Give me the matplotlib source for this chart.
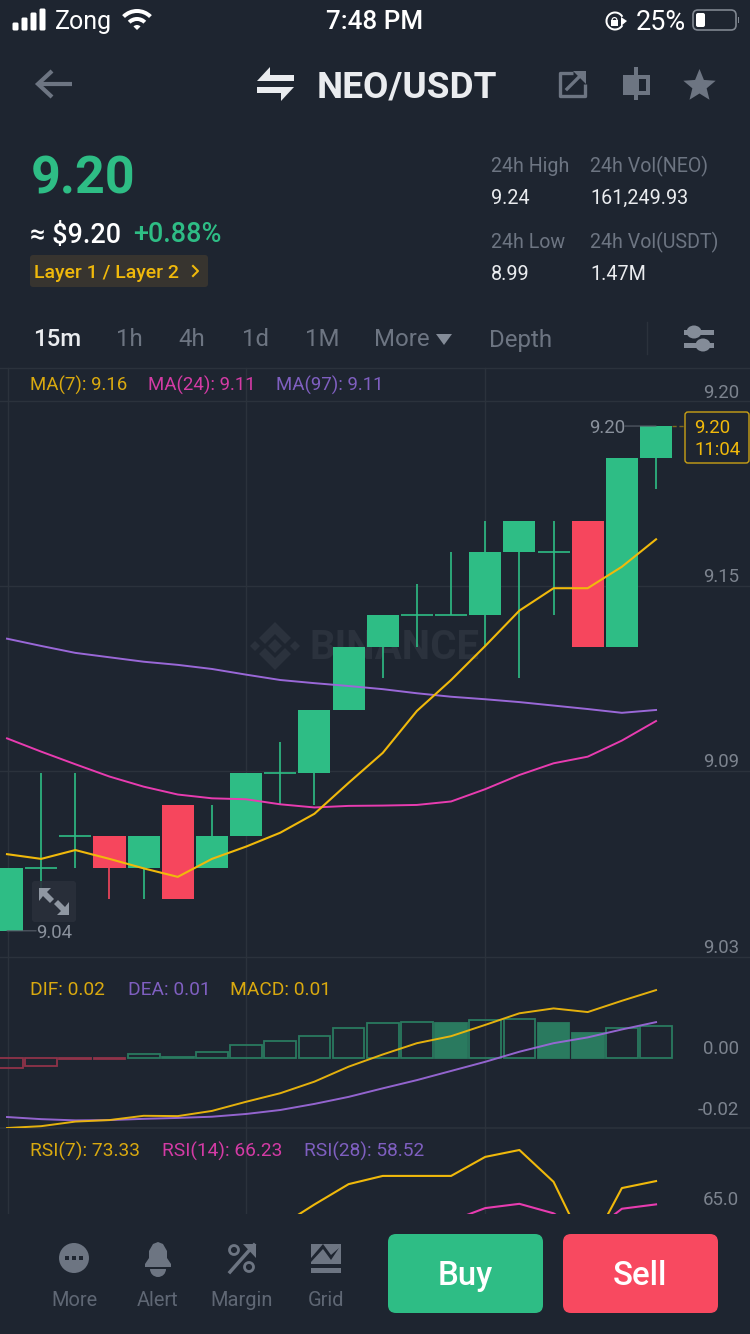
#!/usr/bin/env python3
"""Recreates the NEO/USDT 15m trading screen: candles, MACD and RSI panels plus app chrome."""

import numpy as np
import matplotlib
matplotlib.use('Agg')
import matplotlib.pyplot as plt
from matplotlib.patches import Circle, Ellipse, FancyBboxPatch, Polygon, Rectangle, Wedge

plt.rcParams['font.family'] = ['Roboto', 'DejaVu Sans']

# candles, oldest first
opens = [9.04, 9.06, 9.07, 9.07, 9.06, 9.08, 9.06, 9.07, 9.09, 9.09,
         9.11, 9.13, 9.14, 9.14, 9.14, 9.16, 9.16, 9.17, 9.13, 9.19]
closes = [9.06, 9.06, 9.07, 9.06, 9.07, 9.05, 9.07, 9.09, 9.09, 9.11,
          9.13, 9.14, 9.14, 9.14, 9.16, 9.17, 9.16, 9.13, 9.19, 9.20]
highs = [9.06, 9.09, 9.09, 9.07, 9.07, 9.08, 9.08, 9.09, 9.10, 9.11,
         9.13, 9.14, 9.15, 9.16, 9.17, 9.17, 9.17, 9.17, 9.19, 9.20]
lows = [9.04, 9.05, 9.06, 9.05, 9.05, 9.05, 9.06, 9.07, 9.08, 9.08,
        9.11, 9.12, 9.13, 9.14, 9.13, 9.12, 9.14, 9.13, 9.13, 9.18]

ma7 = [9.0643, 9.0628, 9.0656, 9.0628, 9.0598, 9.0571, 9.0628, 9.0667, 9.0711, 9.0771,
       9.0869, 9.0964, 9.1097, 9.1195, 9.1303, 9.1415, 9.1486, 9.1486, 9.1554, 9.1641]
ma24 = [9.1010, 9.0968, 9.0928, 9.0889, 9.0857, 9.0832, 9.0820, 9.0817, 9.0801, 9.0791,
        9.0796, 9.0797, 9.0799, 9.0810, 9.0849, 9.0894, 9.0931, 9.0952, 9.1003, 9.1065]
ma97 = [9.1326, 9.1303, 9.1281, 9.1267, 9.1253, 9.1243, 9.1230, 9.1212, 9.1195, 9.1185,
        9.1176, 9.1166, 9.1153, 9.1142, 9.1134, 9.1125, 9.1114, 9.1103, 9.1091, 9.1100]

price_grid = [9.2079, 9.1493, 9.0907, 9.0317]
price_labels = ['9.20', '9.15', '9.09', '9.03']

macd_hist = [-0.0035, -0.0027, -0.0004, -0.0004, 0.0011, 0.0002, 0.0019, 0.0040, 0.0053, 0.0071,
             0.0096, 0.0112, 0.0117, 0.0114, 0.0123, 0.0126, 0.0114, 0.0081, 0.0096, 0.0104]
macd_filled = [13, 16, 17]
dif = [-0.0231, -0.0225, -0.0210, -0.0205, -0.0191, -0.0192, -0.0175, -0.0145, -0.0117, -0.0079,
       -0.0030, 0.0010, 0.0047, 0.0070, 0.0107, 0.0145, 0.0161, 0.0149, 0.0186, 0.0221]
dea = [-0.0195, -0.0202, -0.0206, -0.0205, -0.0201, -0.0198, -0.0194, -0.0185, -0.0172, -0.0152,
       -0.0129, -0.0101, -0.0074, -0.0044, -0.0014, 0.0019, 0.0047, 0.0066, 0.0092, 0.0116]

rsi7_idx = [8, 9, 10, 11, 12, 13, 14, 15, 16, 17, 18, 19]
rsi7 = [59.6, 66.2, 72.4, 74.9, 74.9, 74.9, 80.7, 82.8, 73.1, 51.7, 71.2, 73.33]
rsi14_idx = [13, 14, 15, 16, 17, 18, 19]
rsi14 = [61.2, 65.1, 66.4, 63.5, 56.9, 64.9, 66.23]

BG = '#1e2530'
GRID = '#2b323c'
GREEN = '#2ebd85'
RED = '#f6465d'
YELLOW = '#f0b90b'
PINK = '#e83cb0'
PURPLE = '#9a68d8'
GRAY = '#6d7582'
LIGHT = '#eaecef'

W, H = 750, 1334
STEP = 34.16  # px per candle


def px_axes(fig, top, bottom, ylim, zorder=1):
    """Axes spanning the full width between two pixel rows, candle index on x."""
    ax = fig.add_axes([0, 1 - bottom / H, 1, (bottom - top) / H], zorder=zorder)
    ax.set_xlim(-7 / STEP, (W - 7) / STEP)
    ax.set_ylim(*ylim)
    ax.axis('off')
    return ax


def put(ax, x, y, s, size, color, ha='left', weight='normal'):
    # size is the em in pixels; va=center sits about 2px high for this font
    ax.text(x, y + 2, s, fontsize=size * 0.72, color=color, ha=ha, va='center', fontweight=weight)


def axis_label(ax, v, s):
    ax.annotate(s, xy=(1, v), xycoords=('axes fraction', 'data'), xytext=(-8, 6.2), textcoords='offset points',
                ha='right', va='center', color='#7c838e', fontsize=13.4, annotation_clip=False)


def extreme_label(ax, i, v, s, dx, ha):
    # thin leader from the candle to the high/low text
    ax.annotate('', xy=(i, v), xytext=(dx, 0), textcoords='offset points',
                arrowprops=dict(arrowstyle='-', color='#59606b', lw=0.8, shrinkA=0, shrinkB=0))
    ax.annotate(s, xy=(i, v), xytext=(dx, -1.3), textcoords='offset points', ha=ha, va='center',
                color='#8a919c', fontsize=13.4, zorder=6)


fig = plt.figure(figsize=(W / 100, H / 100), dpi=100, facecolor=BG)

# background layer: vertical grid and watermark
back = fig.add_axes([0, 0, 1, 1], zorder=0)
back.set_xlim(0, W)
back.set_ylim(H, 0)
back.axis('off')
for x in [7.5, 246, 485]:
    back.plot([x, x], [368, 1214], color=GRID, lw=1)
back.plot([0, W], [368, 368], color=GRID, lw=1)
wm = '#2b323d'
for cx, cy, r in [(275, 646, 7), (255, 646, 5), (295, 646, 5)]:
    back.add_patch(Polygon([(cx - r, cy), (cx, cy - r), (cx + r, cy), (cx, cy + r)], color=wm, lw=0))
back.add_patch(Polygon([(275, 622), (291, 638), (285, 644), (275, 634), (265, 644), (259, 638)], color=wm, lw=0))
back.add_patch(Polygon([(275, 670), (291, 654), (285, 648), (275, 658), (265, 648), (259, 654)], color=wm, lw=0))
back.text(310, 648, 'BINANCE', fontsize=29, fontweight='bold', color=wm, va='center')

# price panel
ax = px_axes(fig, 368, 957, (9.0317, 9.2184))
for v in price_grid:
    ax.axhline(v, color=GRID, lw=1, zorder=0, clip_on=False)
for i in range(len(opens)):
    up = closes[i] >= opens[i]
    col = GREEN if up else RED
    ax.vlines(i, lows[i], highs[i], color=col, lw=1.2, zorder=2)
    if opens[i] == closes[i]:
        ax.hlines(opens[i], i - 0.47, i + 0.47, color=col, lw=1.2, zorder=2)
    else:
        ax.bar(i, abs(closes[i] - opens[i]), bottom=min(opens[i], closes[i]), width=0.94,
               color=col, lw=0, zorder=3)
xs = np.arange(len(opens))
ax.plot(xs, ma97, color=PURPLE, lw=1.4, zorder=4)
ax.plot(xs, ma24, color=PINK, lw=1.4, zorder=4)
ax.plot(xs, ma7, color=YELLOW, lw=1.5, zorder=5)
extreme_label(ax, 19, 9.20, '9.20', -22.5, 'right')
extreme_label(ax, 0, 9.04, '9.04', 21, 'left')

# MACD panel
macd = px_axes(fig, 957, 1128, (-0.0231, 0.03295))
macd.axhline(-0.0231, color=GRID, lw=1.2, clip_on=False)
for i, h in enumerate(macd_hist):
    col = '#2a7a5f' if h > 0 else '#8f3349'
    filled = i in macd_filled
    macd.bar(i, h, width=0.93, facecolor=col if filled else 'none', edgecolor=col, lw=1.3, zorder=2)
macd.plot(xs, dea, color=PURPLE, lw=1.4, alpha=0.95, zorder=3)
macd.plot(xs, dif, color=YELLOW, lw=1.4, alpha=0.95, zorder=3)

# RSI panel, mostly cut off by the bottom bar
rsi = px_axes(fig, 1128, 1214, (63.3, 89.5))
rsi.plot(rsi7_idx, rsi7, color=YELLOW, lw=1.5)
rsi.plot(rsi14_idx, rsi14, color=PINK, lw=1.5)

# chrome on top, pixel coordinates
ui = fig.add_axes([0, 0, 1, 1], zorder=5)
ui.set_xlim(0, W)
ui.set_ylim(H, 0)
ui.axis('off')
ui.patch.set_alpha(0)

# status bar
for x, top in zip([13, 22, 31, 40], [23, 18, 13, 9]):
    ui.add_patch(FancyBboxPatch((x, top), 5, 30 - top, boxstyle='round,pad=0.5,rounding_size=1.5', color='white', lw=0))
put(ui, 55, 20, 'Zong', 25, 'white')
ui.add_patch(Wedge((137, 30), 5, 225, 315, color='white', lw=0))
ui.add_patch(Wedge((137, 30), 13, 225, 315, width=4, color='white', lw=0))
ui.add_patch(Wedge((137, 30), 21, 225, 315, width=4, color='white', lw=0))
put(ui, 375, 20, '7:48 PM', 26, 'white', ha='center', weight='medium')
ui.add_patch(Wedge((615, 21), 9.5, 30, 330, width=2, color='white', lw=0))
ui.add_patch(Polygon([(621, 17), (627, 21), (621, 26)], color='white', lw=0))
ui.add_patch(Rectangle((611, 20), 7, 6, color='white', lw=0))
ui.add_patch(Wedge((614.5, 20), 3, 180, 360, width=1.2, color='white', lw=0))
put(ui, 686, 20, '25%', 27, 'white', ha='right')
ui.add_patch(FancyBboxPatch((693, 10), 43, 20, boxstyle='round,pad=0,rounding_size=5', fc='none', ec='#7f8690', lw=1.2))
ui.add_patch(FancyBboxPatch((696, 13), 9, 14, boxstyle='round,pad=0,rounding_size=2', color='white', lw=0))
ui.add_patch(Rectangle((737.5, 17), 1.5, 6, color='#7f8690', lw=0))

# nav bar
ui.plot([39, 72], [84, 84], color=GRAY, lw=3, solid_capstyle='butt')
ui.plot([52, 38, 52], [71, 84, 97], color=GRAY, lw=3, solid_joinstyle='miter', solid_capstyle='butt')
ui.add_patch(Polygon([(257, 81), (270, 67), (270, 75), (294, 75), (294, 81)], color=LIGHT, lw=0))
ui.add_patch(Polygon([(294, 87), (281, 101), (281, 93), (257, 93), (257, 87)], color=LIGHT, lw=0))
put(ui, 317, 85, 'NEO/USDT', 37, LIGHT, weight='bold')
ui.plot([573, 560, 560, 585, 585], [73, 73, 96, 96, 84], color=GRAY, lw=2.4, solid_capstyle='butt')
ui.plot([567, 582], [89, 74], color=GRAY, lw=2.4)
ui.add_patch(Polygon([(573, 71), (586, 71), (586, 84)], color=GRAY, lw=0))
ui.add_patch(Rectangle((623, 75), 27, 20, color=GRAY, lw=0))
ui.add_patch(Rectangle((634, 67), 4, 33, color=GRAY, lw=0))
ui.add_patch(Rectangle((639, 79), 7, 12, color=BG, lw=0))
ang = np.deg2rad(np.arange(-90, 270, 36))
rad = np.where(np.arange(10) % 2 == 0, 17, 7.5)
ui.add_patch(Polygon(np.c_[699.5 + rad * np.cos(ang), 86 + rad * np.sin(ang)], color=GRAY, lw=0))

# price header
put(ui, 31, 177, '9.20', 52, GREEN, weight='bold')
put(ui, 30, 233, '\u2248 $9.20', 27, 'white', weight='medium')
put(ui, 133, 233, '+0.88%', 27, GREEN, weight='medium')
ui.add_patch(FancyBboxPatch((30, 255), 178, 32, boxstyle='round,pad=0,rounding_size=3', color='#37342f', lw=0))
put(ui, 34, 271, 'Layer 1 / Layer 2', 19.5, YELLOW, weight='medium')
ui.plot([193, 198, 193], [266, 271, 276], color=YELLOW, lw=1.5)

stat_x = [491, 590]
stat_rows = [(164, 196, ['24h High', '24h Vol(NEO)'], ['9.24', '161,249.93']),
             (240, 272, ['24h Low', '24h Vol(USDT)'], ['8.99', '1.47M'])]
for y1, y2, heads, vals in stat_rows:
    for x, head, val in zip(stat_x, heads, vals):
        put(ui, x, y1, head, 19.6, GRAY)
        put(ui, x, y2, val, 19.8, LIGHT)

# interval tabs
tab_x = [33, 116, 178, 242, 305, 374, 489]
tab_names = ['15m', '1h', '4h', '1d', '1M', 'More', 'Depth']
for x, name in zip(tab_x, tab_names):
    if name == '15m':
        put(ui, x, 338, name, 24, LIGHT, weight='medium')
    else:
        put(ui, x, 338, name, 24, GRAY)
ui.add_patch(Polygon([(436, 334), (452, 334), (444, 345)], color='#848c98', lw=0))
ui.plot([647, 647], [322, 354], color=GRID, lw=1)
for y, kx in [(332, 694), (345, 703)]:
    ui.add_patch(Rectangle((684, y - 2.5), 30, 5, color='#848c98', lw=0))
    ui.add_patch(Ellipse((kx, y), 15, 13, color='#848c98', lw=0))

# chart legends
for x, y, s, col, size in [(30, 383, 'MA(7): 9.16', '#d9a90f', 18.7), (148, 383, 'MA(24): 9.11', '#d43ba5', 18.7),
                           (276, 383, 'MA(97): 9.11', '#7f5fc0', 18.7),
                           (30, 988, 'DIF: 0.02', '#d9a90f', 19.2), (128, 988, 'DEA: 0.01', '#7f5fc0', 19.2),
                           (230, 988, 'MACD: 0.01', '#d9a90f', 19.2),
                           (30, 1149, 'RSI(7): 73.33', '#d9a90f', 19.2), (162, 1149, 'RSI(14): 66.23', '#d43ba5', 19.2),
                           (304, 1149, 'RSI(28): 58.52', '#7f5fc0', 19.2)]:
    put(ui, x, y, s, size, col)

# right axis labels
for v, s in zip(price_grid, price_labels):
    axis_label(ax, v, s)
axis_label(macd, 0, '0.00')
axis_label(macd, -0.02, '-0.02')
axis_label(rsi, 65, '65.0')

# current price tag
ui.plot([672, 685], [426, 426], color='#7d6a1e', lw=1, ls=(0, (3, 2)))
ui.add_patch(FancyBboxPatch((685, 412), 64, 51, boxstyle='round,pad=0,rounding_size=3', fc=BG, ec='#c9a116', lw=1))
put(ui, 694, 426, '9.20', 18.7, YELLOW)
put(ui, 695, 448, '11:04', 18.7, YELLOW)

# expand button
ui.add_patch(FancyBboxPatch((32, 881), 44, 41, boxstyle='round,pad=0,rounding_size=3', fc='#2a303b', ec='none', alpha=0.9))
ui.add_patch(Polygon([(39, 888), (51, 888), (47, 892), (54, 899), (50, 903), (43, 896), (39, 901)], color='#8f97a2', lw=0))
ui.add_patch(Polygon([(69, 915), (57, 915), (61, 911), (54, 904), (58, 900), (65, 907), (69, 902)], color='#8f97a2', lw=0))

# bottom bar
ui.add_patch(Rectangle((0, 1214), W, H - 1214, color=BG, lw=0))
ui.add_patch(FancyBboxPatch((388, 1234), 155, 79, boxstyle='round,pad=0,rounding_size=8', color=GREEN, lw=0))
ui.add_patch(FancyBboxPatch((563, 1234), 155, 79, boxstyle='round,pad=0,rounding_size=8', color='#f84960', lw=0))
put(ui, 465, 1274, 'Buy', 33, 'white', ha='center', weight='medium')
put(ui, 640, 1274, 'Sell', 33, 'white', ha='center', weight='medium')

icon = '#6d7582'
ui.add_patch(Ellipse((74, 1258), 30, 30, color=icon, lw=0))
for x in [67, 74, 81]:
    ui.add_patch(Rectangle((x - 2, 1256), 4, 4, color=BG, lw=0))
ui.add_patch(Polygon([(145, 1264), (149, 1258), (149, 1251), (153, 1244), (158, 1242), (163, 1244), (167, 1251),
                      (167, 1258), (171, 1264), (171, 1267), (145, 1267)], color=icon, lw=0))
ui.add_patch(Wedge((158, 1269), 8, 0, 180, color=icon, lw=0))
ui.add_patch(Circle((234, 1250), 4.5, fc='none', ec=icon, lw=2))
ui.add_patch(Circle((249, 1267), 4.5, fc='none', ec=icon, lw=2))
ui.plot([230, 254], [1272, 1245], color=icon, lw=2.5)
ui.add_patch(Polygon([(243, 1244), (256, 1244), (256, 1258)], color=icon, lw=0))
ui.add_patch(Polygon([(311, 1244), (341, 1244), (341, 1264), (311, 1264), (311, 1262), (323, 1249),
                      (331, 1260), (339, 1248), (331, 1255), (323, 1244), (311, 1258)], color=icon, lw=0))
ui.add_patch(Rectangle((311, 1268), 30, 5, color=icon, lw=0))

for x, s in zip([74, 158, 242, 326], ['More', 'Alert', 'Margin', 'Grid']):
    put(ui, x, 1298, s, 20, '#5f6774', ha='center')

fig.savefig('out.png', dpi=100, facecolor=BG)
